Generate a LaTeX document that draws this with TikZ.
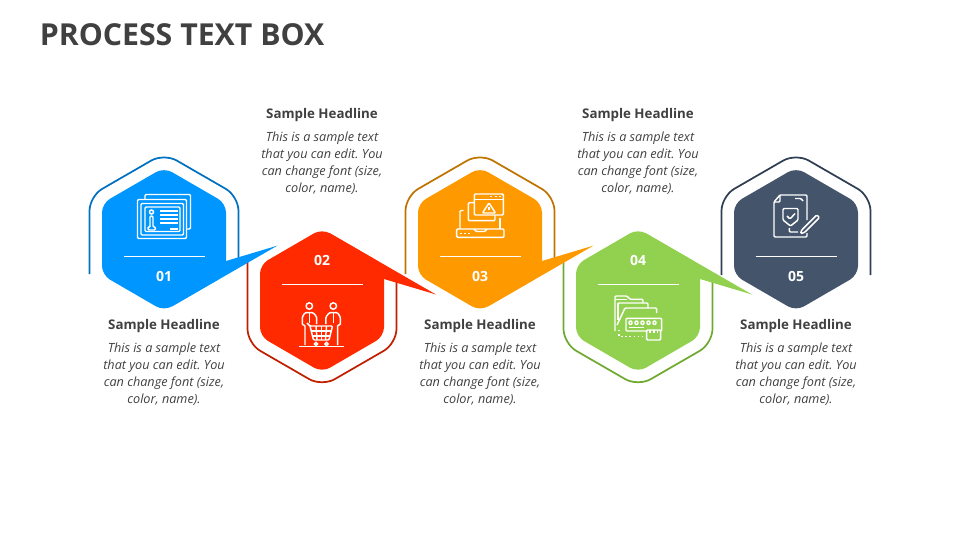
\documentclass[tikz,border=0pt]{standalone}
\usepackage{fontspec}
\setmainfont{Open Sans}
\frenchspacing
\definecolor{inkgray}{HTML}{404040}
\definecolor{blueA}{HTML}{0096FF}
\definecolor{blueB}{HTML}{0070C0}
\definecolor{redA}{HTML}{FF2A00}
\definecolor{redB}{HTML}{C02000}
\definecolor{orangeA}{HTML}{FF9900}
\definecolor{orangeB}{HTML}{BF7300}
\definecolor{greenA}{HTML}{92D050}
\definecolor{greenB}{HTML}{6FAA30}
\definecolor{slateA}{HTML}{44546A}
\definecolor{slateB}{HTML}{2F3E52}
\tikzset{
    hexfill/.style={rounded corners=6.8pt},
    hexline/.style={rounded corners=11pt, line width=1.3pt},
    rulewhite/.style={white, line width=0.75pt},
    icon/.style={white, line width=1.1pt, rounded corners=0.8pt},
    headline/.style={text=inkgray, font=\fontsize{10}{12}\selectfont\bfseries, anchor=center},
    bodytext/.style={text=inkgray, font=\fontsize{9.5}{12.75}\selectfont\itshape, align=center, anchor=center},
    numlabel/.style={text=white, font=\fontsize{10.5}{12}\selectfont\bfseries, anchor=center}
}
\begin{document}
\begin{tikzpicture}[x=0.75pt,y=-0.75pt]
    \useasboundingbox (0,0) rectangle (960,540);

    \node[text=inkgray, font=\fontsize{22.7}{28}\selectfont\bfseries, anchor=west, inner sep=0pt] (title) at (39.5,35) {PROCESS TEXT BOX};

    \draw[hexline, blueB]   (89.5,274) -- (89.5,196.2) -- (164,153.2) -- (238.5,196.2) -- (238.5,262);
    \draw[hexline, redB]    (247.5,258) -- (247.5,343.5) -- (322,386.5) -- (396.5,343.5) -- (396.5,280);
    \draw[hexline, orangeB] (405.5,274) -- (405.5,196.2) -- (480,153.2) -- (554.5,196.2) -- (554.5,262);
    \draw[hexline, greenB]  (563.5,258) -- (563.5,343.5) -- (638,386.5) -- (712.5,343.5) -- (712.5,280);
    \draw[hexline, slateB]  (721.5,275) -- (721.5,196.2) -- (796,153.2) -- (870.5,196.2) -- (870.5,275);

    \fill[hexfill, blueA]   (164,167.5) -- (226,203.4) -- (226,275) -- (164,311) -- (102,275) -- (102,203.4) -- cycle;
    \fill[blueA] (226,261) -- (277.5,245.6) -- (171.8,306.5) -- cycle;
    \fill[hexfill, redA]    (322,228.7) -- (384,264.7) -- (384,336.3) -- (322,372.3) -- (260,336.3) -- (260,264.7) -- cycle;
    \fill[redA] (384,279) -- (436,294.5) -- (329.8,233.2) -- cycle;
    \fill[hexfill, orangeA] (480,167.5) -- (542,203.4) -- (542,275) -- (480,311) -- (418,275) -- (418,203.4) -- cycle;
    \fill[orangeA] (542,261) -- (593.5,245.6) -- (487.8,306.5) -- cycle;
    \fill[hexfill, greenA]  (638,228.7) -- (700,264.7) -- (700,336.3) -- (638,372.3) -- (576,336.3) -- (576,264.7) -- cycle;
    \fill[greenA] (700,279) -- (752,294.5) -- (645.8,233.2) -- cycle;
    \fill[hexfill, slateA]  (796,167.5) -- (858,203.4) -- (858,275) -- (796,311) -- (734,275) -- (734,203.4) -- cycle;

    \draw[rulewhite] (123.5,256.5) -- (205,256.5);
    \draw[rulewhite] (281.5,284.5) -- (363,284.5);
    \draw[rulewhite] (439.5,256.5) -- (521,256.5);
    \draw[rulewhite] (597.5,284.5) -- (679,284.5);
    \draw[rulewhite] (755.5,256.5) -- (837,256.5);

    \node[numlabel] (num1) at (164,276) {01};
    \node[numlabel] (num2) at (322,260) {02};
    \node[numlabel] (num3) at (480,276) {03};
    \node[numlabel] (num4) at (638,260) {04};
    \node[numlabel] (num5) at (796,276) {05};

    \node[headline] (head1) at (164,326.2) {Sample Headline};
    \node[headline] (head2) at (322,115.2) {Sample Headline};
    \node[headline] (head3) at (480,326.2) {Sample Headline};
    \node[headline] (head4) at (638,115.2) {Sample Headline};
    \node[headline] (head5) at (796,326.2) {Sample Headline};

    \node[bodytext] (body1) at (164,374.2) {This is a sample text\\that you can edit. You\\can change font (size,\\color, name).};
    \node[bodytext] (body2) at (322,163.2) {This is a sample text\\that you can edit. You\\can change font (size,\\color, name).};
    \node[bodytext] (body3) at (480,374.2) {This is a sample text\\that you can edit. You\\can change font (size,\\color, name).};
    \node[bodytext] (body4) at (638,163.2) {This is a sample text\\that you can edit. You\\can change font (size,\\color, name).};
    \node[bodytext] (body5) at (796,374.2) {This is a sample text\\that you can edit. You\\can change font (size,\\color, name).};

    \draw[icon] (145,199) -- (145,194.5) -- (190.5,194.5) -- (190.5,229) -- (187,229);
    \draw[icon] (137.5,199.5) rectangle (186.5,238.5);
    \draw[icon] (141,203.5) rectangle (183.5,235);
    \draw[icon] (145,207) rectangle (180,231.5);
    \draw[icon] (151.5,212) circle (1.5pt);
    \draw[icon] (150,216) -- (153,216) -- (153,227) -- (155.5,227) -- (155.5,230) -- (148,230) -- (148,227) -- (150,227) -- cycle;
    \draw[icon] (160,211) -- (178,211);
    \draw[icon] (160,215) -- (178,215);
    \draw[icon] (160,219) -- (178,219);
    \draw[icon] (160,223) -- (178,223);
    \draw[icon] (170,229) -- (178,229);

    \draw[icon] (309.3,306) circle (2.4pt);
    \draw[icon] (333.3,306) circle (2.4pt);
    \draw[icon] (305,345) -- (305,325) -- (302.3,325) -- (302.3,317) -- (305,312.7) -- (313.3,312.7) -- (316.7,317) -- (316.7,324);
    \draw[icon] (337.6,345) -- (337.6,325) -- (340.3,325) -- (340.3,317) -- (337.6,312.7) -- (329.3,312.7) -- (325.9,317) -- (325.9,324);
    \draw[icon] (309.3,313) -- (309.3,323);
    \draw[icon] (333.3,313) -- (333.3,323);
    \draw[icon] (307,323) -- (310,326) -- (332.5,326) -- (329,340) -- (313.5,340) -- (310,326);
    \draw[icon] (311,331) -- (331,331);
    \draw[icon] (312,336) -- (330,336);
    \draw[icon] (316,326) -- (317,340);
    \draw[icon] (321.3,326) -- (321.3,340);
    \draw[icon] (326.5,326) -- (325.5,340);
    \draw[icon] (316,344) circle (1.2pt);
    \draw[icon] (326.5,344) circle (1.2pt);
    \draw[icon] (299,346.5) -- (344,346.5);

    \draw[icon] (474.3,194) rectangle (503.3,215);
    \draw[icon] (474.3,199.5) -- (503.3,199.5);
    \draw[icon] (490,196.7) -- (491.5,196.7);
    \draw[icon] (495,196.7) -- (496.5,196.7);
    \draw[icon] (499,196.7) -- (500.5,196.7);
    \draw[icon] (489,203) -- (495.5,213) -- (482.5,213) -- cycle;
    \draw[icon] (489,206.5) -- (489,210);
    \draw[icon] (474,202.7) -- (468.3,202.7) -- (468.3,220.7) -- (495,220.7) -- (495,215);
    \draw[icon] (463.5,210.5) -- (460,210.5) -- (460,229);
    \draw[icon] (500,218) -- (500,229);
    \draw[icon] (456.7,229) rectangle (504,237.3);
    \draw[icon] (474,229) -- (476,231.5) -- (485,231.5) -- (487,229);
    \draw[icon] (460,233.5) -- (461.5,233.5);
    \draw[icon] (464,233.5) -- (465.5,233.5);
    \draw[icon] (468,233.5) -- (469.5,233.5);

    \draw[icon] (615,331) -- (615,296) -- (627,296) -- (630,299.3) -- (643,299.3) -- (643,303);
    \draw[icon] (615,299.3) -- (627,299.3);
    \draw[icon] (618,303) -- (648,303) -- (648,308);
    \draw[icon] (617,325) -- (625,308) -- (656.7,308) -- (656.7,313);
    \draw[icon] (618,303) -- (618,320);
    \draw[icon] (626,318.3) rectangle (661.7,331);
    \draw[icon] (629,321) rectangle (632,324.5);
    \draw[icon] (635,321) rectangle (638,324.5);
    \draw[icon] (641,321) rectangle (644,324.5);
    \draw[icon] (647,321) rectangle (650,324.5);
    \draw[icon] (653,321) rectangle (656,324.5);
    \draw[icon] (629,327.5) -- (644,327.5);
    \draw[icon, fill=greenA] (646.7,340) -- (646.7,330) -- (660.7,330) -- (660.7,340) -- cycle;
    \draw[icon] (650,330) -- (650,333);
    \draw[icon] (654,330) -- (654,333);
    \draw[icon] (657.5,330) -- (657.5,333);
    \draw[icon, dotted] (619,330) -- (619,336.7) -- (645,336.7);

    \draw[icon] (780,195) -- (807,195) -- (807,220);
    \draw[icon] (780,195) -- (774,202) -- (774,237) -- (807,237) -- (807,233);
    \draw[icon] (780,195) -- (780,202) -- (774,202);
    \draw[icon] (795,198.5) -- (801,198.5) -- (803,201);
    \draw[icon] (783,208.5) -- (798,208.5) -- (798,220) -- (790.5,226) -- (783,220) -- cycle;
    \draw[icon] (787,216) -- (790,219) -- (795,213.5);
    \draw[icon] (789.3,228) -- (789.3,232) -- (798,232);
    \draw[icon] (801.7,230) -- (816.7,215) -- (819.5,217.5) -- (804.5,232.5) -- (800.5,233.5) -- cycle;
\end{tikzpicture}
\end{document}
